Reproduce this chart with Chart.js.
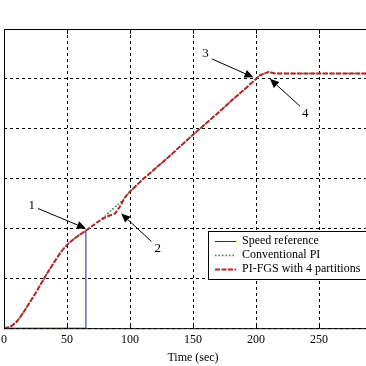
<!DOCTYPE html>
<html><head><meta charset="utf-8">
<script src="https://cdn.jsdelivr.net/npm/chart.js@4.4.1/dist/chart.umd.min.js"></script>
<style>html,body{margin:0;padding:0;background:#fff;overflow:hidden}#wrap{width:400px;height:366px}</style>
</head><body><div id="wrap"><canvas id="c" width="400" height="366"></canvas></div>
<script>
// ---- data ----
const seriesLabels = ['Speed reference', 'Conventional PI', 'PI-FGS with 4 partitions'];
const xTickValues = [0, 50, 100, 150, 200, 250, 300];

const refTime  = [0, 65, 65];
const refSpeed = [0, 0, 1.96];

const pidTime  = [0, 5, 10, 15, 20, 25, 30, 35, 40, 45, 50, 55, 60, 65, 70, 75, 80, 85, 90, 95, 100, 110, 120, 130, 140, 150, 160, 170, 180, 190, 200, 203, 206, 210, 215, 220, 230, 240, 250, 260, 270, 280, 290, 300];
const convPI   = [0, 0.03, 0.13, 0.3, 0.5, 0.7, 0.92, 1.13, 1.33, 1.52, 1.67, 1.78, 1.87, 1.96, 2.05, 2.14, 2.24, 2.36, 2.47, 2.59, 2.74, 2.98, 3.2, 3.42, 3.65, 3.88, 4.1, 4.32, 4.55, 4.77, 5.0, 5.07, 5.1, 5.13, 5.11, 5.11, 5.11, 5.11, 5.11, 5.11, 5.11, 5.11, 5.11, 5.11];

const fgsTime  = [0, 5, 10, 15, 20, 25, 30, 35, 40, 45, 50, 55, 60, 65, 70, 75, 80, 84, 88, 92, 96, 100, 110, 120, 130, 140, 150, 160, 170, 180, 190, 200, 203, 206, 210, 215, 220, 230, 240, 250, 260, 270, 280, 290, 300];
const fgsPI    = [0, 0.03, 0.13, 0.3, 0.5, 0.7, 0.92, 1.13, 1.33, 1.52, 1.67, 1.78, 1.87, 1.96, 2.05, 2.14, 2.22, 2.26, 2.3, 2.44, 2.62, 2.74, 2.98, 3.2, 3.42, 3.65, 3.88, 4.1, 4.32, 4.55, 4.77, 5.0, 5.07, 5.1, 5.14, 5.11, 5.11, 5.11, 5.11, 5.11, 5.11, 5.11, 5.11, 5.11, 5.11];

// annotation arrows (data units)
const noteText  = ['1', '2', '3', '4'];
const noteX     = [22, 122, 160, 239];
const noteY     = [2.46, 1.6, 5.5, 4.3];
const tailX     = [27, 117, 165, 235];
const tailY     = [2.4, 1.74, 5.4, 4.45];
const tipX      = [65, 93, 198, 211];
const tipY      = [2.0, 2.3, 5.03, 5.0];

const pts = (xs, ys) => xs.map((x, i) => ({x: x, y: ys[i]}));
const serif = "'Liberation Serif','DejaVu Serif',serif";

const framePlugin = {
  id: 'frame',
  afterDraw(chart) {
    const {ctx, chartArea: a, scales: {x, y}} = chart;
    ctx.save();
    ctx.strokeStyle = '#000'; ctx.lineWidth = 1; ctx.setLineDash([]);
    ctx.beginPath();
    ctx.moveTo(a.left + 0.5, a.bottom + 0.5); ctx.lineTo(a.left + 0.5, a.top + 0.5); ctx.lineTo(a.right, a.top + 0.5);
    ctx.moveTo(a.left, a.bottom + 0.5); ctx.lineTo(a.right, a.bottom + 0.5);
    xTickValues.forEach(v => { const px = Math.round(x.getPixelForValue(v)) + 0.5; ctx.moveTo(px, a.bottom); ctx.lineTo(px, a.bottom - 5); ctx.moveTo(px, a.top); ctx.lineTo(px, a.top + 5); });
    ctx.stroke();
    // annotations
    ctx.font = '13px ' + serif; ctx.fillStyle = '#000'; ctx.textAlign = 'center'; ctx.textBaseline = 'middle';
    noteText.forEach((t, i) => {
      ctx.fillText(t, x.getPixelForValue(noteX[i]), y.getPixelForValue(noteY[i]));
      const x1 = x.getPixelForValue(tailX[i]), y1 = y.getPixelForValue(tailY[i]);
      const x2 = x.getPixelForValue(tipX[i]), y2 = y.getPixelForValue(tipY[i]);
      const ang = Math.atan2(y2 - y1, x2 - x1), L = 9, W = 4;
      ctx.beginPath(); ctx.moveTo(x1, y1); ctx.lineTo(x2 - L * Math.cos(ang), y2 - L * Math.sin(ang)); ctx.stroke();
      ctx.beginPath(); ctx.moveTo(x2, y2);
      ctx.lineTo(x2 - L * Math.cos(ang) + W * Math.sin(ang), y2 - L * Math.sin(ang) - W * Math.cos(ang));
      ctx.lineTo(x2 - L * Math.cos(ang) - W * Math.sin(ang), y2 - L * Math.sin(ang) + W * Math.cos(ang));
      ctx.closePath(); ctx.fill();
    });
    // legend box
    const lx = 208, ly = 231, lw = 190, lh = 48;
    ctx.fillStyle = '#fff'; ctx.fillRect(lx, ly, lw, lh);
    ctx.strokeRect(lx + 0.5, ly + 0.5, lw, lh);
    ctx.textAlign = 'left';
    chart.data.datasets.forEach((ds, i) => {
      const yy = ly + 10 + i * 14;
      ctx.save();
      ctx.strokeStyle = ds.borderColor; ctx.lineWidth = ds.borderWidth; ctx.setLineDash(ds.borderDash || []);
      ctx.beginPath(); ctx.moveTo(215, yy + 0.5); ctx.lineTo(236, yy + 0.5); ctx.stroke();
      ctx.restore();
      ctx.fillStyle = '#000'; ctx.font = '12px ' + serif;
      ctx.fillText(ds.label, 242, yy);
    });
    ctx.restore();
  }
};

new Chart(document.getElementById('c'), {
  type: 'line',
  data: {
    datasets: [
      {label: seriesLabels[0], data: pts(refTime, refSpeed), borderColor: '#2020b0', borderWidth: 1, pointRadius: 0, tension: 0, order: 3},
      {label: seriesLabels[1], data: pts(pidTime, convPI), borderColor: '#1e8c1e', borderWidth: 1.5, borderDash: [1.5, 2], pointRadius: 0, tension: 0.2, order: 2},
      {label: seriesLabels[2], data: pts(fgsTime, fgsPI), borderColor: '#b8232e', borderWidth: 2, borderDash: [5, 1.5], pointRadius: 0, tension: 0.2, order: 1}
    ]
  },
  options: {
    responsive: false, animation: false, devicePixelRatio: 1,
    layout: {padding: {left: 4, right: 18, top: 29, bottom: 1}},
    plugins: {legend: {display: false}, tooltip: {enabled: false}},
    scales: {
      x: {type: 'linear', min: 0, max: 300,
        afterFit: s => { s.paddingLeft = 0; s.paddingRight = 0; },
        ticks: {stepSize: 50, color: '#000', font: {family: serif, size: 12}, padding: 4, maxRotation: 0},
        grid: {color: '#000', lineWidth: 1, drawTicks: false},
        border: {display: false, dash: [3, 3]},
        title: {display: true, text: 'Time (sec)', color: '#000', font: {family: serif, size: 12}, padding: {top: 0, bottom: 0}}},
      y: {min: 0, max: 6,
        afterFit: s => { s.width = 0; },
        ticks: {display: false, stepSize: 1},
        grid: {color: '#000', lineWidth: 1, drawTicks: false},
        border: {display: false, dash: [3, 3]}}
    }
  },
  plugins: [framePlugin]
});
</script></body></html>
